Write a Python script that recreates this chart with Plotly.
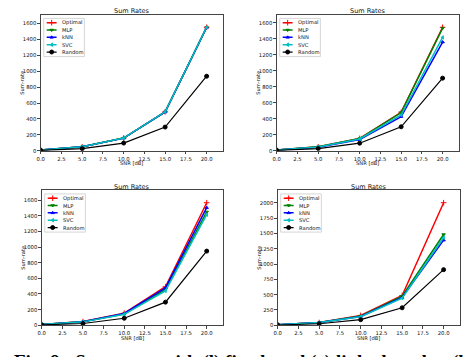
import plotly.graph_objects as go

# ---------------- data ----------------
snr = [0, 5, 10, 15, 20]
series_names = ["Optimal", "MLP", "kNN", "SVC", "Random"]

# top-left panel
tl_optimal = [10, 50, 160, 490, 1552]
tl_mlp = [10, 50, 160, 489, 1550]
tl_knn = [10, 50, 159, 488, 1549]
tl_svc = [10, 50, 160, 490, 1552]
tl_random = [5, 27, 97, 298, 937]

# top-right panel
tr_optimal = [10, 50, 155, 482, 1545]
tr_mlp = [10, 50, 153, 478, 1535]
tr_knn = [10, 45, 140, 428, 1360]
tr_svc = [10, 48, 148, 448, 1418]
tr_random = [5, 28, 95, 300, 909]

# bottom-left panel
bl_optimal = [10, 48, 155, 493, 1566]
bl_mlp = [10, 45, 145, 458, 1448]
bl_knn = [10, 47, 152, 478, 1503]
bl_svc = [10, 44, 140, 440, 1414]
bl_random = [5, 23, 90, 296, 948]

# bottom-right panel
br_optimal = [10, 45, 162, 486, 2000]
br_mlp = [10, 45, 150, 475, 1481]
br_knn = [10, 44, 145, 454, 1389]
br_svc = [10, 44, 140, 443, 1432]
br_random = [5, 25, 92, 286, 908]

x_ticks = [0, 2.5, 5, 7.5, 10, 12.5, 15, 17.5, 20]
x_tick_labels = ["0.0", "2.5", "5.0", "7.5", "10.0", "12.5", "15.0", "17.5", "20.0"]
panel_title = "Sum Rates"
x_label = "SNR [dB]"
y_label = "Sum-rate"
caption = "Fig. 8:  Sum rates with (l) fixed, and (r) linked, and at (bottom)"

panels = [
    [tl_optimal, tl_mlp, tl_knn, tl_svc, tl_random],
    [tr_optimal, tr_mlp, tr_knn, tr_svc, tr_random],
    [bl_optimal, bl_mlp, bl_knn, bl_svc, bl_random],
    [br_optimal, br_mlp, br_knn, br_svc, br_random],
]
y_dticks = [200, 200, 200, 250]

# ---------------- style ----------------
W, H = 474, 357
# panel boxes in pixels: (left, right, top, bottom)
boxes = [(29, 213, 7, 144), (267, 451, 7, 144), (30, 213, 184, 320), (268, 452, 184, 320)]
colors = ["#FF0000", "#008000", "#0000FF", "#00BFBF", "#000000"]
symbols = ["cross-thin", "triangle-down", "triangle-up", "triangle-left", "circle"]
msizes = [4, 3, 3, 3, 4]
lwidths = [1.5, 1.5, 1.5, 1.5, 1.2]
FONT = "DejaVu Sans"

fig = go.Figure()
layout = dict(
    width=W, height=H, margin=dict(l=0, r=0, t=0, b=0),
    paper_bgcolor="white", plot_bgcolor="white", showlegend=False,
    font=dict(family=FONT, color="#222"),
)
annotations = []
shapes = []

for i, (data, box, dt) in enumerate(zip(panels, boxes, y_dticks)):
    n = i + 1
    m = i + 5
    l, r, t, b = box
    xd = [l / W, r / W]
    yd = [1 - b / H, 1 - t / H]
    ymax = 1.1 * max(max(s) for s in data)
    ax_common = dict(showline=True, mirror=True, linecolor="#444", linewidth=0.8,
                     ticks="outside", ticklen=2.5, tickwidth=0.7, tickcolor="#444",
                     showgrid=False, zeroline=False, tickfont=dict(size=5.3, family=FONT, color="#111"),
                     fixedrange=True)
    layout[f"xaxis{n}"] = dict(domain=xd, anchor=f"y{n}", range=[0, 22],
                               tickvals=x_ticks, ticktext=x_tick_labels, **ax_common)
    layout[f"yaxis{n}"] = dict(domain=yd, anchor=f"x{n}", range=[0, ymax],
                               dtick=dt, tick0=0, **ax_common)
    # overlay axes in pixel units for the legend
    wpx, hpx = r - l, b - t
    layout[f"xaxis{m}"] = dict(overlaying=f"x{n}", anchor=f"y{m}", range=[0, wpx], visible=False, fixedrange=True)
    layout[f"yaxis{m}"] = dict(overlaying=f"y{n}", anchor=f"x{m}", range=[hpx, 0], visible=False, fixedrange=True)

    for k, (name, ys) in enumerate(zip(series_names, data)):
        fig.add_trace(go.Scatter(
            x=snr, y=ys, name=name, mode="lines+markers", xaxis=f"x{n}", yaxis=f"y{n}",
            line=dict(color=colors[k], width=lwidths[k]),
            marker=dict(symbol=symbols[k], size=msizes[k], color=colors[k],
                        line=dict(color=colors[k], width=1)),
        ))

    # legend
    shapes.append(dict(type="rect", xref=f"x{m}", yref=f"y{m}", x0=3, x1=44, y0=3.5, y1=42,
                       line=dict(color="#cccccc", width=0.8), fillcolor="white", layer="below"))
    offs = [7.8, 15.2, 22.6, 30.0, 37.4]
    for k, name in enumerate(series_names):
        fig.add_trace(go.Scatter(
            x=[6, 16], y=[offs[k], offs[k]], mode="lines", xaxis=f"x{m}", yaxis=f"y{m}",
            line=dict(color=colors[k], width=lwidths[k]), hoverinfo="skip"))
        fig.add_trace(go.Scatter(
            x=[11], y=[offs[k]], mode="markers", xaxis=f"x{m}", yaxis=f"y{m}",
            marker=dict(symbol=symbols[k], size=msizes[k], color=colors[k],
                        line=dict(color=colors[k], width=1)), hoverinfo="skip"))
        annotations.append(dict(text=name, xref=f"x{m}", yref=f"y{m}", x=19.5, y=offs[k],
                                xanchor="left", yanchor="middle", showarrow=False,
                                font=dict(size=5.2, family=FONT, color="#111")))

    # title and axis labels
    cx = (l + r) / 2 / W
    annotations.append(dict(text=panel_title, xref="paper", yref="paper", x=cx, y=1 - (t - 3.5) / H,
                            xanchor="center", yanchor="middle", showarrow=False,
                            font=dict(size=6.5, family=FONT, color="#111")))
    annotations.append(dict(text=x_label, xref="paper", yref="paper", x=cx, y=1 - (b + 12.5) / H,
                            xanchor="center", yanchor="middle", showarrow=False,
                            font=dict(size=5.2, family=FONT, color="#111")))
    annotations.append(dict(text=y_label, xref="paper", yref="paper", x=(l - 19) / W, y=1 - (t + b) / 2 / H,
                            xanchor="center", yanchor="middle", showarrow=False, textangle=-90,
                            font=dict(size=5.2, family=FONT, color="#111")))

annotations.append(dict(text=f"<b>{caption}</b>", xref="paper", yref="paper", x=0, y=1 - 344 / H,
                        xanchor="left", yanchor="top", showarrow=False,
                        font=dict(size=19, family="Liberation Serif", color="#000")))

layout["annotations"] = annotations
layout["shapes"] = shapes
fig.update_layout(**layout)
fig.write_html("out.html")
